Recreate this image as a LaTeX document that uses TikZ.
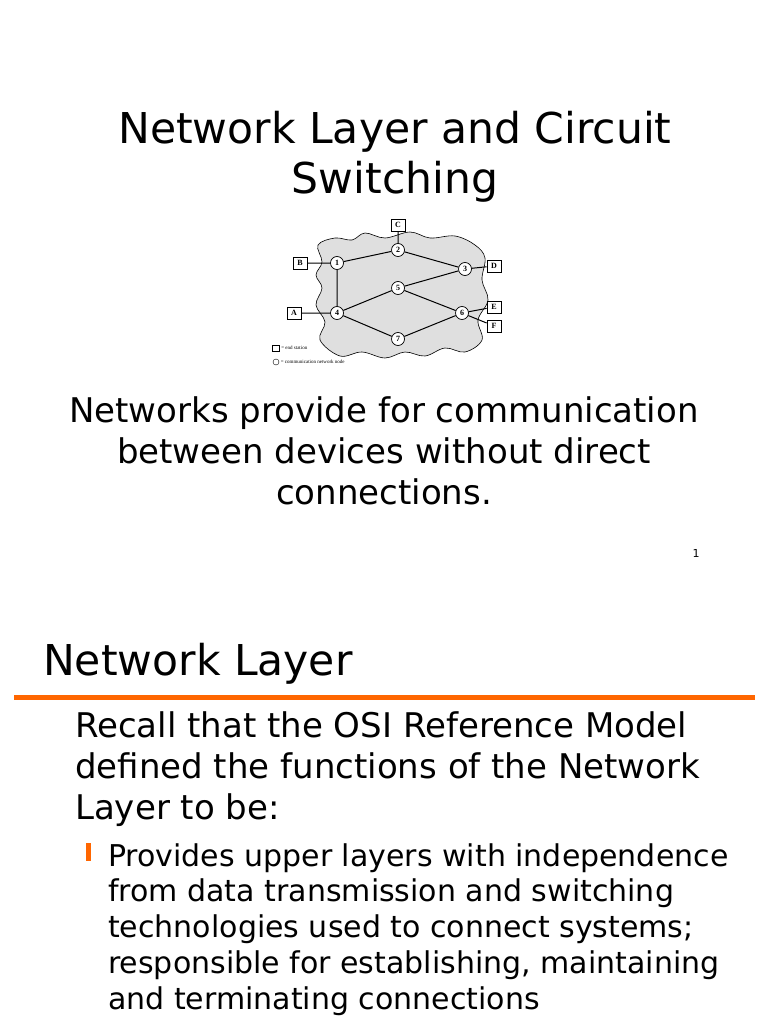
\documentclass[tikz,border=0pt]{standalone}
\usepackage{fontspec}
\setmainfont{DejaVu Sans}
\newfontfamily\serifsmall{Liberation Serif}
\definecolor{orng}{RGB}{255,102,0}
\begin{document}
\begin{tikzpicture}[x=1pt,y=-1pt,
  nd/.style={circle,draw,fill=white,minimum size=13pt,inner sep=0pt,line width=0.7pt,font=\serifsmall\fontsize{8}{8}\selectfont\bfseries},
  st/.style={rectangle,draw,fill=white,minimum width=14pt,minimum height=12pt,inner sep=0pt,line width=0.7pt,font=\serifsmall\fontsize{8}{8}\selectfont\bfseries},
  ln/.style={line width=1pt}]
\path[fill=white] (0,0) rectangle (768,1024);
\useasboundingbox (0,0) rectangle (768,1024);
\node[font=\fontsize{42.5}{50}\selectfont,align=center] (title) at (395,157) {Network Layer and Circuit\\Switching};
% cloud
\draw[fill=gray!25,line width=0.6pt] plot[smooth cycle,tension=0.6] coordinates {
 (322,262)(318,245)(335,238)(352,240)(365,233)(385,238)(410,232)(430,238)(455,236)(475,245)(485,258)(482,280)(488,300)(478,320)(482,340)(465,352)(445,348)(425,356)(405,352)(385,358)(362,352)(340,356)(320,340)(325,322)(316,305)(322,288)(316,275)};
\node[nd] (n1) at (337,263) {1};
\node[nd] (n2) at (398,250) {2};
\node[nd] (n3) at (465,269) {3};
\node[nd] (n5) at (398,288) {5};
\node[nd] (n4) at (337,313) {4};
\node[nd] (n6) at (462,313) {6};
\node[nd] (n7) at (398,339) {7};
\node[st] (C) at (398,225) {C};
\node[st] (B) at (300,263) {B};
\node[st] (D) at (494,266) {D};
\node[st] (A) at (294,313) {A};
\node[st] (E) at (494,307) {E};
\node[st] (F) at (494,326) {F};
\draw[ln] (n1)--(n2) (n2)--(n3) (n1)--(n4) (n3)--(n5) (n5)--(n4) (n5)--(n6) (n4)--(n7) (n7)--(n6);
\draw[ln] (C)--(n2) (B)--(n1) (n3)--(D) (A)--(n4) (n6)--(E) (n6)--(F);
\node[draw,minimum width=7pt,minimum height=6pt,inner sep=0pt] (lg1) at (276,348) {};
\node[draw,circle,minimum size=6pt,inner sep=0pt] (lg2) at (276,362) {};
\node[anchor=west,font=\serifsmall\fontsize{5}{5}\selectfont,inner sep=1.5pt] (lt1) at (lg1.east) {= end station};
\node[anchor=west,font=\serifsmall\fontsize{5}{5}\selectfont,inner sep=1.5pt] (lt2) at (lg2.east) {= communication network node};
\node[font=\fontsize{34}{41}\selectfont,align=center] (body) at (384,451) {Networks provide for communication\\between devices without direct\\connections.};
\node[font=\fontsize{11}{11}\selectfont] (pg) at (696,553) {1};
\node[anchor=west,font=\fontsize{42.5}{42.5}\selectfont,inner sep=0pt] (h2) at (43,664) {Network Layer};
\draw[orng,line width=5pt] (14,697) -- (755,697);
\node[anchor=north west,font=\fontsize{34}{41}\selectfont,align=left,inner sep=0pt] (para) at (75,711) {Recall that the OSI Reference Model\\defined the functions of the Network\\Layer to be:};
\fill[orng] (86,843) rectangle (91,861);
\node[anchor=north west,font=\fontsize{30}{35.8}\selectfont,align=left,inner sep=0pt] (sub) at (108,843) {Provides upper layers with independence\\from data transmission and switching\\technologies used to connect systems;\\responsible for establishing, maintaining\\and terminating connections};
\end{tikzpicture}
\end{document}
